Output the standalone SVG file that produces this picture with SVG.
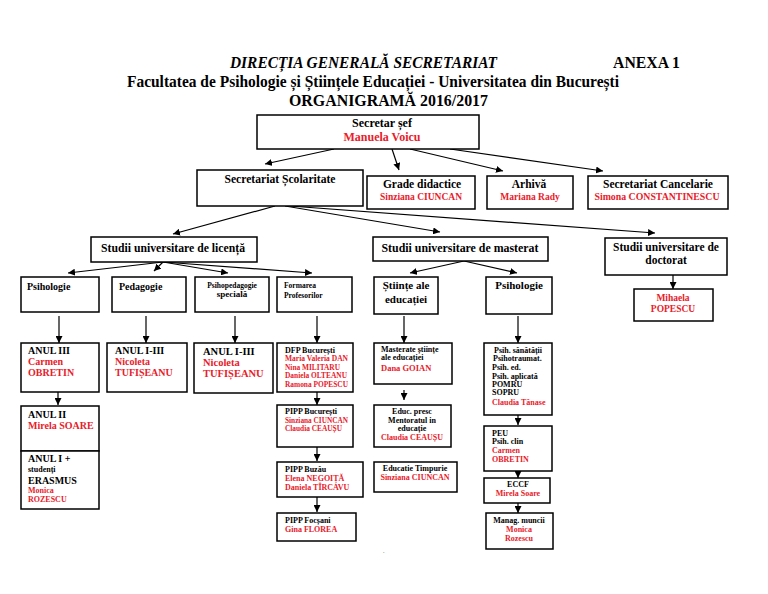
<svg xmlns="http://www.w3.org/2000/svg" width="768" height="594" viewBox="0 0 768 594">
<style>
text{font-family:"Liberation Serif","Times New Roman",serif;font-weight:bold;fill:#000}
.box{fill:#fff;stroke:#000;stroke-width:1.5}
.r{fill:#e8202a}
.c{text-anchor:middle}
.h{font-size:16.5px}
.m{font-size:11.5px}
.n{font-size:9.5px}
.s{font-size:10px}
.x{font-size:8px}
.conn line{stroke:#000;stroke-width:1.2;marker-end:url(#ah)}
</style>
<defs>
<marker id="ah" markerUnits="userSpaceOnUse" markerWidth="8" markerHeight="7" refX="7" refY="3.5" orient="auto">
<path d="M0,0 L7,3.5 L0,7 z" fill="#000"/>
</marker>
</defs>
<rect width="768" height="594" fill="#fff"/>

<g id="title">
<text class="h" x="230" y="68" font-style="italic" textLength="267" lengthAdjust="spacingAndGlyphs">DIRECȚIA GENERALĂ SECRETARIAT</text>
<text class="h" x="613" y="68" textLength="67" lengthAdjust="spacingAndGlyphs">ANEXA 1</text>
<text class="h" x="127" y="87" textLength="492" lengthAdjust="spacingAndGlyphs">Facultatea de Psihologie și Științele Educației - Universitatea din București</text>
<text class="h" x="289" y="106" textLength="199" lengthAdjust="spacingAndGlyphs">ORGANIGRAMĂ 2016/2017</text>
</g>

<g class="conn" id="connectors">
<line x1="334" y1="149" x2="265" y2="164"/>
<line x1="392" y1="149" x2="399" y2="170"/>
<line x1="410" y1="149" x2="503" y2="171"/>
<line x1="450" y1="149" x2="603" y2="171"/>
<line x1="275" y1="206" x2="173" y2="234"/>
<line x1="285" y1="206" x2="440" y2="232"/>
<line x1="290" y1="206" x2="655" y2="233"/>
<line x1="163" y1="262" x2="68" y2="273"/>
<line x1="163" y1="262" x2="154" y2="271"/>
<line x1="163" y1="262" x2="228" y2="273"/>
<line x1="163" y1="262" x2="312" y2="273"/>
<line x1="464" y1="261" x2="410" y2="273"/>
<line x1="464" y1="261" x2="517" y2="273"/>
<line x1="673" y1="275" x2="673" y2="289"/>
<line x1="59" y1="316" x2="59" y2="343"/>
<line x1="146" y1="316" x2="146" y2="343"/>
<line x1="235" y1="316" x2="235" y2="343"/>
<line x1="317" y1="316" x2="317" y2="343"/>
<line x1="404" y1="316" x2="404" y2="343"/>
<line x1="518" y1="316" x2="518" y2="343"/>
<line x1="58" y1="392" x2="58" y2="405"/>
<line x1="58" y1="438" x2="58" y2="450"/>
<line x1="317" y1="392" x2="317" y2="405"/>
<line x1="317" y1="447" x2="317" y2="461"/>
<line x1="317" y1="497" x2="317" y2="512"/>
<line x1="404" y1="390" x2="404" y2="400"/>
<line x1="518" y1="415" x2="518" y2="425"/>
<line x1="518" y1="471" x2="518" y2="478"/>
<line x1="518" y1="503" x2="518" y2="513"/>
</g>

<g id="secretar-sef">
<rect class="box" x="257" y="115" width="222" height="34"/>
<text class="c" x="382" y="127" font-size="12">Secretar șef</text>
<text class="c r" x="382" y="141" font-size="12">Manuela Voicu</text>
</g>
<g id="secretariat-scolaritate">
<rect class="box" x="197" y="170" width="166" height="36"/>
<text class="c m" x="280" y="183" textLength="111" lengthAdjust="spacingAndGlyphs">Secretariat Școlaritate</text>
</g>
<g id="grade-didactice">
<rect class="box" x="367" y="176" width="108" height="33"/>
<text class="c m" x="422" y="188">Grade didactice</text>
<text class="c r n" x="421" y="200">Sinziana CIUNCAN</text>
</g>
<g id="arhiva">
<rect class="box" x="487" y="176" width="86" height="33"/>
<text class="c m" x="529" y="188">Arhivă</text>
<text class="c r n" x="530" y="200">Mariana Rady</text>
</g>
<g id="secretariat-cancelarie">
<rect class="box" x="588" y="176" width="140" height="33"/>
<text class="c m" x="658" y="188">Secretariat Cancelarie</text>
<text class="c r n" x="657" y="200" textLength="125" lengthAdjust="spacingAndGlyphs">Simona CONSTANTINESCU</text>
</g>

<g id="licenta">
<rect class="box" x="91" y="237" width="166" height="25"/>
<text class="c m" x="173" y="252" textLength="144" lengthAdjust="spacingAndGlyphs">Studii universitare de licență</text>
</g>
<g id="masterat">
<rect class="box" x="373" y="237" width="175" height="24"/>
<text class="c m" x="460" y="252" textLength="157" lengthAdjust="spacingAndGlyphs">Studii universitare  de masterat</text>
</g>
<g id="doctorat">
<rect class="box" x="605" y="238" width="122" height="37"/>
<text class="c m" x="666" y="251">Studii universitare de</text>
<text class="c m" x="666" y="264">doctorat</text>
</g>
<g id="mihaela-popescu">
<rect class="box" x="634" y="289" width="79" height="32"/>
<text class="c r n" x="673" y="301">Mihaela</text>
<text class="c r n" x="673" y="312">POPESCU</text>
</g>

<g id="psihologie-lic">
<rect class="box" x="21" y="277" width="78" height="35"/>
<text class="s" x="27" y="290">Psihologie</text>
</g>
<g id="pedagogie">
<rect class="box" x="112" y="277" width="74" height="35"/>
<text class="s" x="119" y="290">Pedagogie</text>
</g>
<g id="psihopedagogie">
<rect class="box" x="195" y="277" width="74" height="35"/>
<text class="c" x="232" y="288" font-size="7.5">Psihopedagogie</text>
<text class="c" x="232" y="297" font-size="9">specială</text>
</g>
<g id="formarea">
<rect class="box" x="277" y="277" width="75" height="35"/>
<text x="284" y="288" font-size="7.5">Formarea</text>
<text x="284" y="298" font-size="7.5">Profesorilor</text>
</g>
<g id="stiinte">
<rect class="box" x="374" y="277" width="64" height="37"/>
<text class="c" x="406" y="289" font-size="11">Științe ale</text>
<text class="c" x="406" y="303" font-size="11">educației</text>
</g>
<g id="psihologie-mas">
<rect class="box" x="486" y="277" width="66" height="37"/>
<text class="c" x="519" y="289" font-size="11">Psihologie</text>
</g>

<g id="anul-3">
<rect class="box" x="21" y="343" width="78" height="49"/>
<text class="s" x="28" y="354">ANUL  III</text>
<text class="s r" x="28" y="365">Carmen</text>
<text class="s r" x="28" y="376">OBRETIN</text>
</g>
<g id="anul-2">
<rect class="box" x="21" y="406" width="78" height="45"/>
<text class="s" x="28" y="418">ANUL II</text>
<text class="s r" x="28" y="429">Mirela SOARE</text>
</g>
<g id="anul-1">
<rect class="box" x="21" y="451" width="78" height="58"/>
<text class="s" x="28" y="462">ANUL I +</text>
<text class="x" x="28" y="472">studenți</text>
<text class="s" x="28" y="484">ERASMUS</text>
<text class="x r" x="28" y="493">Monica</text>
<text class="x r" x="28" y="502">ROZESCU</text>
</g>
<g id="anul-ped">
<rect class="box" x="107" y="343" width="80" height="49"/>
<text class="s" x="115" y="354">ANUL I-III</text>
<text class="s r" x="115" y="365">Nicoleta</text>
<text class="s r" x="115" y="376">TUFIȘEANU</text>
</g>
<g id="anul-psihoped">
<rect class="box" x="194" y="343" width="79" height="50"/>
<text x="203" y="355" font-size="10.5">ANUL I-III</text>
<text class="r" x="203" y="366" font-size="10.5">Nicoleta</text>
<text class="r" x="203" y="377" font-size="10.5">TUFIȘEANU</text>
</g>

<g id="dfp">
<rect class="box" x="277" y="343" width="76" height="49"/>
<text class="x" x="285" y="353">DFP București</text>
<text class="x r" x="285" y="361" textLength="63" lengthAdjust="spacingAndGlyphs">Maria  Valeria DAN</text>
<text class="x r" x="285" y="369.5" textLength="55" lengthAdjust="spacingAndGlyphs">Nina MILITARU</text>
<text class="x r" x="285" y="378" textLength="62" lengthAdjust="spacingAndGlyphs">Daniela OLTEANU</text>
<text class="x r" x="285" y="386.5" textLength="63" lengthAdjust="spacingAndGlyphs">Ramona POPESCU</text>
</g>
<g id="pipp-bucuresti">
<rect class="box" x="277" y="405" width="76" height="42"/>
<text class="x" x="285" y="414">PIPP București</text>
<text class="x r" x="285" y="423" textLength="63" lengthAdjust="spacingAndGlyphs">Sinziana CIUNCAN</text>
<text class="x r" x="285" y="431" textLength="57" lengthAdjust="spacingAndGlyphs">Claudia CEAUȘU</text>
</g>
<g id="pipp-buzau">
<rect class="box" x="277" y="462" width="86" height="35"/>
<text class="x" x="285" y="472">PIPP Buzău</text>
<text class="x r" x="285" y="481">Elena NEGOIȚĂ</text>
<text class="x r" x="285" y="490">Daniela TÎRCAVU</text>
</g>
<g id="pipp-focsani">
<rect class="box" x="277" y="513" width="79" height="28"/>
<text class="x" x="285" y="523">PIPP Focșani</text>
<text class="x r" x="285" y="532">Gina FLOREA</text>
</g>

<g id="masterate-stiinte">
<rect class="box" x="374" y="343" width="78" height="41"/>
<text class="x" x="381" y="352">Masterate științe</text>
<text class="x" x="381" y="360">ale educației</text>
<text class="r" x="381" y="371" font-size="8.5">Dana GOIAN</text>
</g>
<g id="educ-presc">
<rect class="box" x="374" y="405" width="77" height="42"/>
<text class="x c" x="412" y="414">Educ. presc</text>
<text class="x c" x="412" y="423">Mentoratul in</text>
<text class="x c" x="412" y="431">educație</text>
<text class="x c r" x="412" y="440">Claudia CEAUȘU</text>
</g>
<g id="educatie-timpurie">
<rect class="box" x="374" y="462" width="83" height="30"/>
<text class="x c" x="415" y="471">Educatie Timpurie</text>
<text class="x c r" x="415" y="480">Sinziana CIUNCAN</text>
</g>

<g id="psih-programe">
<rect class="box" x="484" y="343" width="68" height="72"/>
<text class="x" x="494" y="353">Psih. sănătății</text>
<text class="x" x="493" y="361">Psihotraumat.</text>
<text class="x" x="492" y="370">Psih. ed.</text>
<text class="x" x="492" y="379">Psih. aplicată</text>
<text class="x" x="492" y="387">POMRU</text>
<text class="x" x="492" y="395">SOPRU</text>
<text class="x r" x="492" y="405">Claudia Tănase</text>
</g>
<g id="peu">
<rect class="box" x="484" y="426" width="68" height="45"/>
<text class="x" x="492" y="436">PEU</text>
<text class="x" x="492" y="444">Psih. clin</text>
<text class="x r" x="492" y="453">Carmen</text>
<text class="x r" x="492" y="462">OBRETIN</text>
</g>
<g id="eccf">
<rect class="box" x="484" y="478" width="66" height="25"/>
<text class="x c" x="518" y="487">ECCF</text>
<text class="x c r" x="518" y="496">Mirela Soare</text>
</g>
<g id="manag-muncii">
<rect class="box" x="486" y="513" width="67" height="36"/>
<text class="x c" x="519" y="523">Manag. muncii</text>
<text class="x c r" x="519" y="532">Monica</text>
<text class="x c r" x="519" y="541">Rozescu</text>
</g>

<text x="383" y="553" font-size="6" style="fill:#888">.</text>
</svg>
